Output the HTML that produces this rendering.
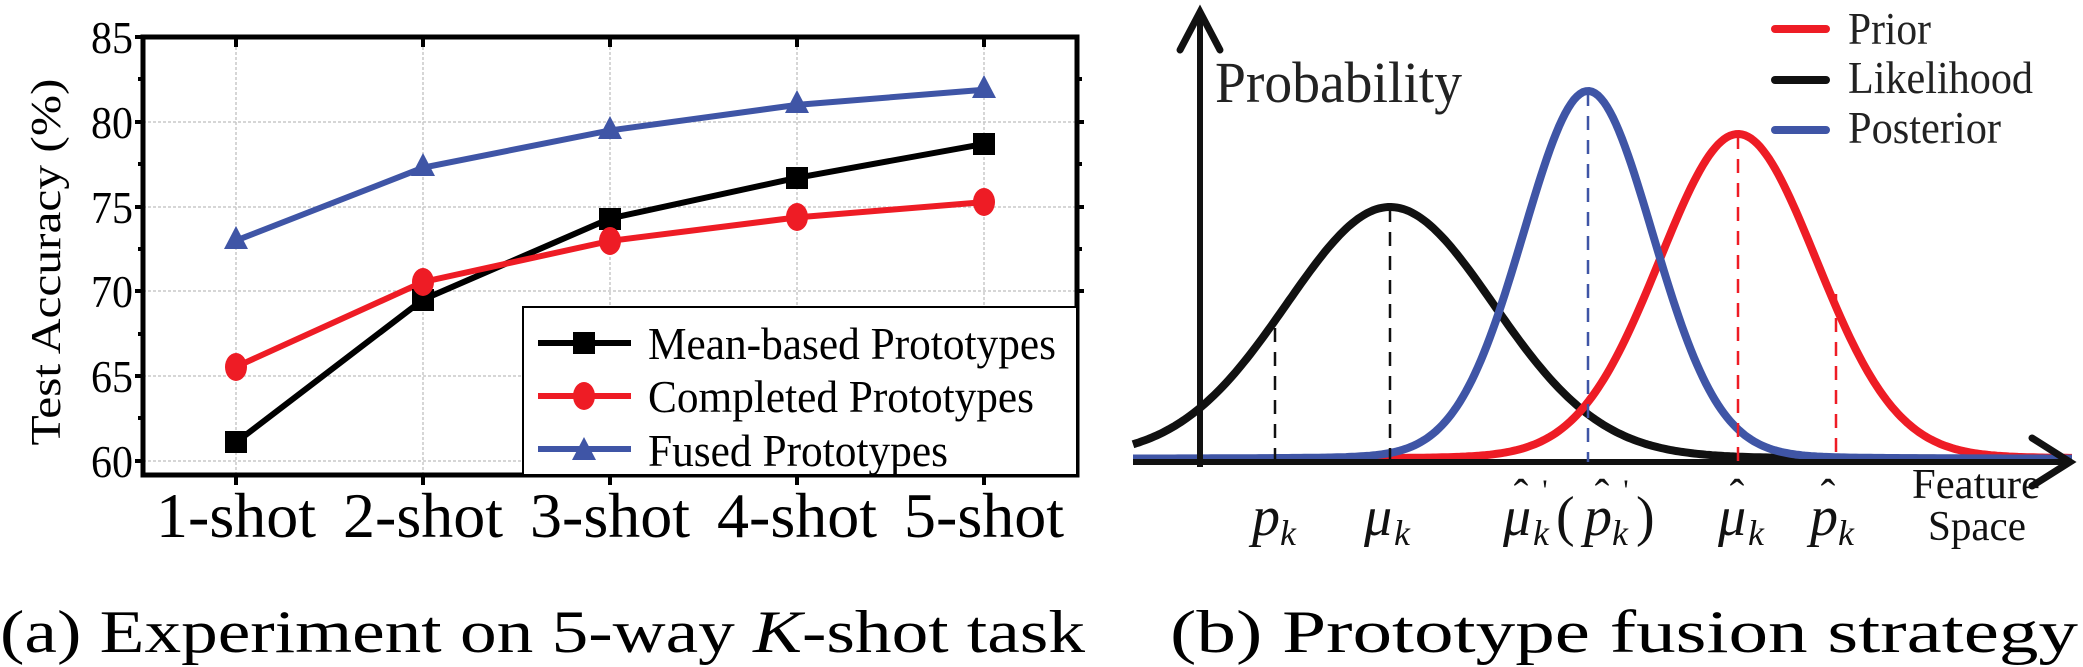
<!DOCTYPE html>
<html><head><meta charset="utf-8"><style>
html,body{margin:0;padding:0;background:#fff;}
svg{display:block;}
text{font-family:"Liberation Serif",serif;}
</style></head><body>
<svg id="s" width="2083" height="667" viewBox="0 0 2083 667" xmlns="http://www.w3.org/2000/svg">
<rect width="2083" height="667" fill="#fff"/>
<g stroke="#c8c8c8" stroke-width="1.5" stroke-dasharray="3,2">
<line x1="143" y1="122" x2="1077" y2="122"/>
<line x1="143" y1="207" x2="1077" y2="207"/>
<line x1="143" y1="291" x2="1077" y2="291"/>
<line x1="143" y1="376" x2="1077" y2="376"/>
<line x1="143" y1="461" x2="1077" y2="461"/>
<line x1="236" y1="37" x2="236" y2="475"/>
<line x1="423" y1="37" x2="423" y2="475"/>
<line x1="610" y1="37" x2="610" y2="475"/>
<line x1="797" y1="37" x2="797" y2="475"/>
<line x1="984" y1="37" x2="984" y2="475"/>
</g>
<g stroke="#000" stroke-width="4">
<line x1="135" y1="37" x2="143" y2="37"/><line x1="135" y1="122" x2="143" y2="122"/><line x1="135" y1="207" x2="143" y2="207"/><line x1="135" y1="291" x2="143" y2="291"/><line x1="135" y1="376" x2="143" y2="376"/><line x1="135" y1="461" x2="143" y2="461"/>
<line x1="138" y1="79" x2="143" y2="79"/><line x1="138" y1="164" x2="143" y2="164"/><line x1="138" y1="249" x2="143" y2="249"/><line x1="138" y1="334" x2="143" y2="334"/><line x1="138" y1="418" x2="143" y2="418"/>
<line x1="1077" y1="122" x2="1084" y2="122"/><line x1="1077" y1="207" x2="1084" y2="207"/><line x1="1077" y1="291" x2="1084" y2="291"/><line x1="1077" y1="79" x2="1082" y2="79"/><line x1="1077" y1="164" x2="1082" y2="164"/><line x1="1077" y1="249" x2="1082" y2="249"/>
<line x1="236" y1="475" x2="236" y2="485"/><line x1="423" y1="475" x2="423" y2="485"/><line x1="610" y1="475" x2="610" y2="485"/><line x1="797" y1="475" x2="797" y2="485"/><line x1="984" y1="475" x2="984" y2="485"/>
<line x1="236" y1="37" x2="236" y2="47"/><line x1="423" y1="37" x2="423" y2="47"/><line x1="610" y1="37" x2="610" y2="47"/><line x1="797" y1="37" x2="797" y2="47"/><line x1="984" y1="37" x2="984" y2="47"/>
</g>
<rect x="143" y="37" width="934" height="438" fill="none" stroke="#000" stroke-width="5"/>
<g font-size="46" text-anchor="end">
<text x="133" y="53" textLength="42" lengthAdjust="spacingAndGlyphs">85</text><text x="133" y="138" textLength="42" lengthAdjust="spacingAndGlyphs">80</text><text x="133" y="223" textLength="42" lengthAdjust="spacingAndGlyphs">75</text><text x="133" y="307" textLength="42" lengthAdjust="spacingAndGlyphs">70</text><text x="133" y="392" textLength="42" lengthAdjust="spacingAndGlyphs">65</text><text x="133" y="477" textLength="42" lengthAdjust="spacingAndGlyphs">60</text>
</g>
<text transform="translate(60,262) rotate(-90)" font-size="42" text-anchor="middle" textLength="367" lengthAdjust="spacingAndGlyphs">Test Accuracy (%)</text>
<g font-size="64" text-anchor="middle">
<text x="236" y="537" textLength="160" lengthAdjust="spacingAndGlyphs">1-shot</text>
<text x="423" y="537" textLength="160" lengthAdjust="spacingAndGlyphs">2-shot</text>
<text x="610" y="537" textLength="160" lengthAdjust="spacingAndGlyphs">3-shot</text>
<text x="797" y="537" textLength="160" lengthAdjust="spacingAndGlyphs">4-shot</text>
<text x="984" y="537" textLength="160" lengthAdjust="spacingAndGlyphs">5-shot</text>
</g>
<polyline fill="none" stroke="#3f55a6" stroke-width="6" points="236,240.6 423,167.7 610,130.4 797,104.9 984,89.7"/>
<polyline fill="none" stroke="#000" stroke-width="6" points="236,442.4 423,299.6 610,218.5 797,177.8 984,143.9"/>
<polyline fill="none" stroke="#ee1c25" stroke-width="6" points="236,366.8 423,282.0 610,240.9 797,217.4 984,202.1"/>
<g fill="#000"><rect x="225" y="431" width="22" height="22"/><rect x="412" y="289" width="22" height="22"/><rect x="599" y="208" width="22" height="22"/><rect x="786" y="167" width="22" height="22"/><rect x="973" y="133" width="22" height="22"/></g>
<g fill="#ee1c25"><ellipse cx="236" cy="367" rx="11" ry="14"/><ellipse cx="423" cy="282" rx="11" ry="14"/><ellipse cx="610" cy="241" rx="11" ry="14"/><ellipse cx="797" cy="217" rx="11" ry="14"/><ellipse cx="984" cy="202" rx="11" ry="14"/></g>
<g fill="#3f55a6"><polygon points="236,226 224,249 248,249"/><polygon points="423,153 411,176 435,176"/><polygon points="610,116 598,139 622,139"/><polygon points="797,90 785,113 809,113"/><polygon points="984,75 972,98 996,98"/></g>
<rect x="523" y="307" width="554" height="168" fill="#fff" stroke="#000" stroke-width="2"/>
<line x1="538" y1="343" x2="631" y2="343" stroke="#000" stroke-width="6"/><rect x="573" y="332" width="22" height="22"/>
<line x1="538" y1="396" x2="631" y2="396" stroke="#ee1c25" stroke-width="6"/><ellipse cx="584" cy="396" rx="11" ry="14" fill="#ee1c25"/>
<line x1="538" y1="449" x2="631" y2="449" stroke="#3f55a6" stroke-width="6"/><polygon points="584,437 572,460 596,460" fill="#3f55a6"/>
<g font-size="46">
<text x="648" y="359" textLength="408" lengthAdjust="spacingAndGlyphs">Mean-based Prototypes</text>
<text x="648" y="412" textLength="386" lengthAdjust="spacingAndGlyphs">Completed Prototypes</text>
<text x="648" y="466" textLength="300" lengthAdjust="spacingAndGlyphs">Fused Prototypes</text>
</g>
<text x="0" y="652" font-size="60" textLength="1085" lengthAdjust="spacingAndGlyphs">(a) Experiment on 5-way <tspan font-style="italic">K</tspan>-shot task</text>

<g id="curves"></g>
<line x1="1133" y1="462" x2="2068" y2="462" stroke="#111" stroke-width="6"/>
<polyline points="2032,438 2070,462 2032,486" fill="none" stroke="#111" stroke-width="7" stroke-linecap="round"/>
<line x1="1200" y1="14" x2="1200" y2="467" stroke="#111" stroke-width="6"/>
<polyline points="1180,50 1200,12 1220,50" fill="none" stroke="#111" stroke-width="7" stroke-linecap="round"/>
<g stroke-width="2.5" stroke-dasharray="14,10">
<line x1="1275" y1="328" x2="1275" y2="462" stroke="#111"/>
<line x1="1390" y1="208" x2="1390" y2="462" stroke="#111"/>
<line x1="1588" y1="92" x2="1588" y2="462" stroke="#3f55a6"/>
<line x1="1738" y1="135" x2="1738" y2="462" stroke="#ee1c25"/>
<line x1="1836" y1="294" x2="1836" y2="462" stroke="#ee1c25"/>
</g>
<text x="1215" y="102" font-size="58" fill="#222" textLength="247" lengthAdjust="spacingAndGlyphs">Probability</text>
<g stroke-width="8" stroke-linecap="round">
<line x1="1775" y1="29" x2="1826" y2="29" stroke="#ee1c25"/>
<line x1="1775" y1="80" x2="1826" y2="80" stroke="#111"/>
<line x1="1775" y1="130" x2="1826" y2="130" stroke="#3f55a6"/>
</g>
<g font-size="46" fill="#222">
<text x="1848" y="44" textLength="83" lengthAdjust="spacingAndGlyphs">Prior</text>
<text x="1848" y="93" textLength="185" lengthAdjust="spacingAndGlyphs">Likelihood</text>
<text x="1848" y="143" textLength="153" lengthAdjust="spacingAndGlyphs">Posterior</text>
</g>
<g font-size="56" font-style="italic" fill="#111">
<text x="1252" y="535">p</text><text x="1280" y="545" font-size="36">k</text>
<text x="1364" y="535">μ</text><text x="1394" y="545" font-size="36">k</text>
<text x="1503" y="535">μ</text><text x="1533" y="545" font-size="36">k</text>
<text x="1556" y="535" font-style="normal">(</text>
<text x="1584" y="535">p</text><text x="1612" y="545" font-size="36">k</text>
<text x="1636" y="535" font-style="normal">)</text>
<text x="1718" y="535">μ</text><text x="1748" y="545" font-size="36">k</text>
<text x="1810" y="535">p</text><text x="1838" y="545" font-size="36">k</text>
</g>
<g font-size="44" fill="#111" text-anchor="middle">
<text x="1521" y="510">ˆ</text><text x="1545" y="500" font-size="30">'</text>
<text x="1602" y="510">ˆ</text><text x="1626" y="500" font-size="30">'</text>
<text x="1737" y="510">ˆ</text>
<text x="1828" y="510">ˆ</text>
</g>
<g font-size="42" fill="#111">
<text x="1912" y="498" textLength="128" lengthAdjust="spacingAndGlyphs">Feature</text>
<text x="1928" y="540" textLength="98" lengthAdjust="spacingAndGlyphs">Space</text>
</g>
<text x="1170" y="652" font-size="60" textLength="908" lengthAdjust="spacingAndGlyphs">(b) Prototype fusion strategy</text>
</svg>
<script>
(function(){
var base=459;
function g(mu,s,h,col){
 var d="";
 for(var x=1133;x<=2072;x+=3){
   var z=(x-mu)/s;
   var y=base-h*(0.94*Math.exp(-z*z/2)+0.06/(1+z*z));
   d+=(x==1133?"M":"L")+x+","+y.toFixed(1);
 }
 var p=document.createElementNS("http://www.w3.org/2000/svg","path");
 p.setAttribute("d",d);p.setAttribute("fill","none");p.setAttribute("stroke",col);p.setAttribute("stroke-width","8");
 document.getElementById("curves").appendChild(p);
}
g(1390,106,252,"#111");
g(1738,80,325,"#ee1c25");
g(1588,66,368,"#3f55a6");
})();
</script>
</body></html>
